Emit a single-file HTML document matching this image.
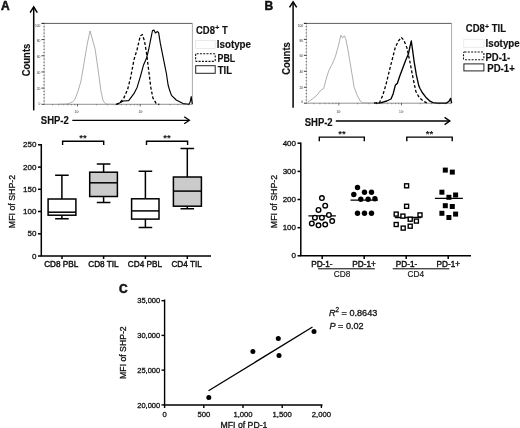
<!DOCTYPE html>
<html><head><meta charset="utf-8"><title>Figure</title>
<style>
html,body{margin:0;padding:0;background:#fff;}
svg{display:block}
text{font-family:"Liberation Sans",Arial,sans-serif;fill:#111}
.b{font-weight:bold}
.h{font-weight:bold;font-size:9.5px;stroke:#111;stroke-width:0.15px}
.ax{font-size:8.8px;stroke:#111;stroke-width:0.3px}
.lb{font-size:8.2px;stroke:#111;stroke-width:0.4px}
.tk{font-size:8px;stroke:#111;stroke-width:0.3px}
.pl{font-weight:bold;font-size:12px;stroke:#111;stroke-width:0.5px}
.tiny{font-size:3.3px;fill:#333}
</style></head><body>
<svg width="520" height="428" viewBox="0 0 520 428">
<rect width="520" height="428" fill="#fff"/>

<text x="0.9" y="9.7" class="pl">A</text>
<text x="264.4" y="9.7" class="pl">B</text>
<text x="119" y="293.1" class="pl">C</text>
<g fill="none" stroke="#111">
<path d="M33.7,110.4 V7" stroke="#000" stroke-width="1.5"/><path d="M30.1,12.6 L33.7,6.9 L37.3,12.6" stroke="#000" stroke-width="1.5"/>
<path d="M41.6,23.4 H192.4" stroke="#333" stroke-width="0.8"/>
<path d="M192.4,23.4 V104.3" stroke="#888" stroke-width="0.7"/>
<path d="M44.3,23.4 V104.3" stroke="#999" stroke-width="0.5"/>
<path d="M44.3,104.3 H192.4" stroke="#666" stroke-width="0.7"/>
<path d="M41.6,23.40 H44.5 M41.6,39.58 H44.5 M41.6,55.76 H44.5 M41.6,71.94 H44.5 M41.6,88.12 H44.5 M41.6,104.30 H44.5" stroke="#222" stroke-width="0.9"/>
<path d="M43.3,26.64 H44.6 M43.3,29.87 H44.6 M43.3,33.11 H44.6 M43.3,36.34 H44.6 M43.3,42.82 H44.6 M43.3,46.05 H44.6 M43.3,49.29 H44.6 M43.3,52.52 H44.6 M43.3,59.00 H44.6 M43.3,62.23 H44.6 M43.3,65.47 H44.6 M43.3,68.70 H44.6 M43.3,75.18 H44.6 M43.3,78.41 H44.6 M43.3,81.65 H44.6 M43.3,84.88 H44.6 M43.3,91.36 H44.6 M43.3,94.59 H44.6 M43.3,97.83 H44.6 M43.3,101.06 H44.6" stroke="#333" stroke-width="0.7"/>
<path d="M77.50,104.0 V106.5 M140.20,104.0 V106.5" stroke="#333" stroke-width="0.7"/>
<path d="M52.55,104.0 V105.4 M58.63,104.0 V105.4 M63.59,104.0 V105.4 M67.79,104.0 V105.4 M71.42,104.0 V105.4 M74.63,104.0 V105.4 M96.37,104.0 V105.4 M107.42,104.0 V105.4 M115.25,104.0 V105.4 M121.33,104.0 V105.4 M126.29,104.0 V105.4 M130.49,104.0 V105.4 M134.12,104.0 V105.4 M137.33,104.0 V105.4 M159.07,104.0 V105.4 M170.12,104.0 V105.4 M177.95,104.0 V105.4 M184.03,104.0 V105.4 M188.99,104.0 V105.4" stroke="#555" stroke-width="0.5"/>
<polyline points="58.0,104.3 66.0,104.1 69.5,103.3 72.5,101.8 74.7,99.8 77.9,91.6 81.0,81.0 84.2,62.1 87.4,43.2 90.1,30.9 92.6,40.0 95.2,49.5 97.9,68.4 101.0,91.6 103.2,101.0 106.3,104.2 115.0,104.3" stroke="#999" stroke-width="0.8"/>
<polyline points="116.0,104.3 119.2,103.2 123.4,99.0 127.6,89.5 130.8,76.8 133.9,60.0 137.1,49.5 140.3,35.8 142.4,34.7 144.5,41.0 146.6,53.7 148.7,70.5 150.8,87.4 152.9,97.9 156.0,103.2 159.2,104.4" stroke="#000" stroke-width="1.3" stroke-dasharray="3 2"/>
<polyline points="117.0,104.2 123.4,101.0 128.7,100.6 133.9,93.7 137.1,87.4 140.3,76.8 143.4,65.3 146.6,57.9 148.7,49.5 150.8,38.9 152.5,30.5 153.9,30.1 155.4,33.0 157.1,31.6 158.6,32.6 160.3,43.2 162.4,53.7 164.5,64.2 166.4,73.5 168.1,85.0 169.8,90.8 171.5,95.4 176.2,100.0 183.1,103.5 188.8,104.2 190.2,102.0 191.2,96.5 192.3,104.2" stroke="#000" stroke-width="1.15" stroke-linejoin="round"/>
<path d="M72.3,120.3 H189" stroke="#000" stroke-width="1.3"/><path d="M184.2,116.8 L189.4,120.3 L184.2,123.8" stroke="#000" stroke-width="1.3"/>
<rect x="195.7" y="40.5" width="19.5" height="8" stroke="#ddd" stroke-width="0.6"/>
<rect x="195.6" y="53.8" width="19.6" height="7.6" rx="1" stroke="#111" stroke-width="1.1" stroke-dasharray="2 1.3"/>
<rect x="195.7" y="65.7" width="19.5" height="7.6" stroke="#222" stroke-width="1"/>
</g>
<text x="40.4" y="27.2" class="tiny" text-anchor="end">100</text>
<text x="40.4" y="41.8" class="tiny" text-anchor="end">80</text>
<text x="40.4" y="58.0" class="tiny" text-anchor="end">60</text>
<text x="40.4" y="74.1" class="tiny" text-anchor="end">40</text>
<text x="40.4" y="90.3" class="tiny" text-anchor="end">20</text>
<text x="40.4" y="104.5" class="tiny" text-anchor="end">0</text>
<text x="77" y="113.4" class="tiny" text-anchor="middle">10¹</text>
<text x="140.8" y="113.4" class="tiny" text-anchor="middle">10²</text>
<text transform="translate(30.2,60) rotate(-90) scale(1,1.12)" class="h" text-anchor="middle">Counts</text>
<text transform="translate(40.8,124) scale(1,1.08)" class="h">SHP-2</text>
<text transform="translate(196,34) scale(1,1.1)" class="h">CD8<tspan dy="-3.4" dx="0.2" style="font-size:7px">+</tspan><tspan dy="3.4"> T</tspan></text>
<text transform="translate(216.8,47.7) scale(1.03,1.15)" class="h">Isotype</text>
<text transform="translate(217.5,61.8) scale(0.93,1.15)" class="h">PBL</text>
<text transform="translate(217.8,74.3) scale(1,1.15)" class="h">TIL</text>
<g fill="none" stroke="#111">
<path d="M293.1,107.8 V2" stroke="#000" stroke-width="1.5"/><path d="M289.5,7.4 L293.1,1.8 L296.7,7.4" stroke="#000" stroke-width="1.5"/>
<path d="M303.9,23.4 H451.6" stroke="#333" stroke-width="0.8"/>
<path d="M451.6,23.4 V103.2" stroke="#888" stroke-width="0.7"/>
<path d="M306.6,23.4 V103.2" stroke="#999" stroke-width="0.5"/>
<path d="M306.6,103.2 H451.6" stroke="#666" stroke-width="0.7"/>
<path d="M303.9,23.40 H306.8 M303.9,39.36 H306.8 M303.9,55.32 H306.8 M303.9,71.28 H306.8 M303.9,87.24 H306.8 M303.9,103.20 H306.8" stroke="#222" stroke-width="0.9"/>
<path d="M305.6,26.59 H306.9 M305.6,29.78 H306.9 M305.6,32.98 H306.9 M305.6,36.17 H306.9 M305.6,42.55 H306.9 M305.6,45.74 H306.9 M305.6,48.94 H306.9 M305.6,52.13 H306.9 M305.6,58.51 H306.9 M305.6,61.70 H306.9 M305.6,64.90 H306.9 M305.6,68.09 H306.9 M305.6,74.47 H306.9 M305.6,77.66 H306.9 M305.6,80.86 H306.9 M305.6,84.05 H306.9 M305.6,90.43 H306.9 M305.6,93.62 H306.9 M305.6,96.82 H306.9 M305.6,100.01 H306.9" stroke="#333" stroke-width="0.7"/>
<path d="M338.80,102.9 V105.4 M401.50,102.9 V105.4" stroke="#333" stroke-width="0.7"/>
<path d="M313.85,102.9 V104.3 M319.93,102.9 V104.3 M324.89,102.9 V104.3 M329.09,102.9 V104.3 M332.72,102.9 V104.3 M335.93,102.9 V104.3 M357.67,102.9 V104.3 M368.72,102.9 V104.3 M376.55,102.9 V104.3 M382.63,102.9 V104.3 M387.59,102.9 V104.3 M391.79,102.9 V104.3 M395.42,102.9 V104.3 M398.63,102.9 V104.3 M420.37,102.9 V104.3 M431.42,102.9 V104.3 M439.25,102.9 V104.3 M445.33,102.9 V104.3 M450.29,102.9 V104.3" stroke="#555" stroke-width="0.5"/>
<polyline points="307.9,102.1 313.2,98.3 317.4,94.7 320.5,90.5 323.7,88.4 326.8,76.8 328.9,70.5 332.1,64.2 335.3,56.8 337.4,49.5 339.5,41.0 340.9,35.2 342.6,37.9 344.3,35.8 345.8,38.9 347.9,49.5 350.0,62.1 352.1,74.7 354.2,87.4 357.4,95.8 360.5,101.3 362.6,102.8 375.0,103.1" stroke="#999" stroke-width="0.8"/>
<polyline points="374.0,103.0 379.5,102.7 382.6,95.8 385.8,85.3 388.9,72.6 392.1,60.0 395.3,47.4 398.4,41.0 401.2,37.3 403.7,40.0 406.8,47.4 410.0,62.1 413.2,79.0 415.9,91.6 419.5,97.9 423.7,101.3 426.8,102.9" stroke="#000" stroke-width="1.3" stroke-dasharray="3 2"/>
<polyline points="376.0,103.1 380.5,102.9 386.8,101.0 391.0,99.0 393.2,93.7 395.3,85.3 397.4,83.2 399.5,76.8 402.6,68.4 405.8,60.0 408.5,53.7 410.0,46.3 411.3,41.0 412.5,49.5 414.2,62.1 416.3,74.7 418.8,85.8 420.0,88.5 422.2,92.5 425.8,97.2 430.0,101.2 433.0,102.6 437.4,103.1 446.5,103.1 449.0,101.3 450.6,98.4 451.6,103.2" stroke="#000" stroke-width="1.35" stroke-linejoin="round"/>
<path d="M335.8,121 H449.4" stroke="#000" stroke-width="1.4"/><path d="M444.6,117.4 L449.8,121 L444.6,124.6" stroke="#000" stroke-width="1.4"/>
<rect x="463.8" y="39.2" width="20.2" height="8" stroke="#ddd" stroke-width="0.6"/>
<rect x="463.5" y="52" width="20.4" height="7.8" rx="1" stroke="#111" stroke-width="1.1" stroke-dasharray="2 1.3"/>
<rect x="463.9" y="63.9" width="20" height="7" stroke="#222" stroke-width="1"/>
</g>
<text x="303.2" y="27.2" class="tiny" text-anchor="end">100</text>
<text x="303.2" y="41.5" class="tiny" text-anchor="end">80</text>
<text x="303.2" y="57.4" class="tiny" text-anchor="end">60</text>
<text x="303.2" y="73.4" class="tiny" text-anchor="end">40</text>
<text x="303.2" y="89.3" class="tiny" text-anchor="end">20</text>
<text x="303.2" y="103.2" class="tiny" text-anchor="end">0</text>
<text x="338.8" y="112.6" class="tiny" text-anchor="middle">10¹</text>
<text x="401.5" y="112.6" class="tiny" text-anchor="middle">10²</text>
<text transform="translate(290.1,58.5) rotate(-90) scale(1,1.12)" class="h" text-anchor="middle">Counts</text>
<text transform="translate(304.7,126.4) scale(1,1.08)" class="h">SHP-2</text>
<text transform="translate(465.8,32.4) scale(1,1.1)" class="h">CD8<tspan dy="-3.4" dx="0.3" style="font-size:7px">+</tspan><tspan dy="3.4"> TIL</tspan></text>
<text transform="translate(485.5,47) scale(1.03,1.15)" class="h">Isotype</text>
<text transform="translate(485.5,60.5) scale(1,1.13)" class="h">PD-1-</text>
<text transform="translate(487.3,72.4) scale(1.01,1.13)" class="h">PD-1+</text>
<g fill="none" stroke="#000" stroke-width="1.5">
<path d="M41.3,144.1 V256 H211"/>
<path d="M38,256.0 H41.3"/>
<path d="M38,233.8 H41.3"/>
<path d="M38,211.5 H41.3"/>
<path d="M38,189.3 H41.3"/>
<path d="M38,167.1 H41.3"/>
<path d="M38,144.8 H41.3"/>
<path d="M62,256 V259"/>
<path d="M103.6,256 V259"/>
<path d="M145.4,256 V259"/>
<path d="M187.3,256 V259"/>
<path d="M61.9,175.3 V199 M61.9,215.2 V218.8 M55.1,175.3 H68.7 M55.1,218.8 H68.7"/>
<rect x="48.1" y="199" width="27.8" height="16.2" fill="#fff"/>
<path d="M48.1,212.2 H75.9"/>
<path d="M103.6,164 V172.2 M103.6,196.5 V202.5 M96.8,164 H110.4 M96.8,202.5 H110.4"/>
<rect x="89.7" y="172.2" width="27.7" height="24.3" fill="#cbcbcb"/>
<path d="M89.7,182.8 H117.4"/>
<path d="M145.4,171.2 V198.8 M145.4,219.1 V227.6 M138.6,171.2 H152.2 M138.6,227.6 H152.2"/>
<rect x="131.6" y="198.8" width="27.4" height="20.3" fill="#fff"/>
<path d="M131.6,210.9 H159"/>
<path d="M187.3,148.6 V177 M187.3,206.2 V208.8 M180.5,148.6 H194.1 M180.5,208.8 H194.1"/>
<rect x="173.4" y="177" width="28.0" height="29.2" fill="#cbcbcb"/>
<path d="M173.4,191.1 H201.4"/>
<path d="M62.6,145 V141.2 H103.7 V145" stroke-width="1.4"/>
<path d="M146.5,145 V141.2 H187.6 V145" stroke-width="1.4"/>
</g>
<text x="36.4" y="258.6" class="tk" text-anchor="end">0</text>
<text x="36.4" y="236.4" class="tk" text-anchor="end">50</text>
<text x="36.4" y="214.1" class="tk" text-anchor="end">100</text>
<text x="36.4" y="191.9" class="tk" text-anchor="end">150</text>
<text x="36.4" y="169.7" class="tk" text-anchor="end">200</text>
<text x="36.4" y="147.4" class="tk" text-anchor="end">250</text>
<text x="83" y="140.6" class="b" style="font-size:9.5px" text-anchor="middle">**</text>
<text x="167" y="140.6" class="b" style="font-size:9.5px" text-anchor="middle">**</text>
<text x="61.2" y="267.1" class="lb" text-anchor="middle">CD8 PBL</text>
<text x="103.4" y="267.1" class="lb" text-anchor="middle">CD8 TIL</text>
<text x="144.9" y="267.1" class="lb" text-anchor="middle">CD4 PBL</text>
<text x="186.6" y="267.1" class="lb" text-anchor="middle">CD4 TIL</text>
<text transform="translate(15,201.5) rotate(-90)" class="ax" text-anchor="middle">MFI of SHP-2</text>
<g fill="none" stroke="#000" stroke-width="1.5">
<path d="M300.8,142.4 V255.8 H471"/>
<path d="M297.5,255.8 H300.8"/>
<path d="M297.5,227.7 H300.8"/>
<path d="M297.5,199.5 H300.8"/>
<path d="M297.5,171.4 H300.8"/>
<path d="M297.5,143.2 H300.8"/>
<path d="M322.2,255.8 V259"/>
<path d="M364.2,255.8 V259"/>
<path d="M406.2,255.8 V259"/>
<path d="M448.2,255.8 V259"/>
<path d="M319.3,141.2 V137.1 H364.3 V141.2" stroke-width="1.4"/>
<path d="M406.8,141.2 V137.1 H452.2 V141.2" stroke-width="1.4"/>
<path d="M308.4,215.8 H335.9 M350.5,200.1 H377.9 M394.8,217.5 H421.4 M434.9,198.4 H462.9" stroke-width="1.3"/>
<path d="M318.1,268.8 H374.8 M392.7,268.8 H449.4" stroke-width="1"/>
</g>
<g fill="#fff" stroke="#000" stroke-width="1.4">
<circle cx="321.9" cy="198.1" r="2.3"/>
<circle cx="325.2" cy="205.7" r="2.3"/>
<circle cx="318.5" cy="209.9" r="2.3"/>
<circle cx="328.9" cy="214.9" r="2.3"/>
<circle cx="314.9" cy="217.7" r="2.3"/>
<circle cx="321.9" cy="217.7" r="2.3"/>
<circle cx="332.2" cy="221.1" r="2.3"/>
<circle cx="311.8" cy="223.4" r="2.3"/>
<circle cx="318.5" cy="225.3" r="2.3"/>
<circle cx="325.2" cy="224.5" r="2.3"/>
<rect x="404.6" y="183.8" width="4" height="4"/>
<rect x="404.6" y="204.3" width="4" height="4"/>
<rect x="394.2" y="212.1" width="4" height="4"/>
<rect x="400.9" y="214.1" width="4" height="4"/>
<rect x="418.0" y="212.9" width="4" height="4"/>
<rect x="408.2" y="217.2" width="4" height="4"/>
<rect x="414.4" y="219.1" width="4" height="4"/>
<rect x="394.2" y="222.5" width="4" height="4"/>
<rect x="408.2" y="224.2" width="4" height="4"/>
<rect x="401.2" y="226.1" width="4" height="4"/>
</g><g fill="#000">
<circle cx="357.5" cy="187.5" r="2.7"/>
<circle cx="353.8" cy="194.5" r="2.7"/>
<circle cx="364.5" cy="192.2" r="2.7"/>
<circle cx="371.5" cy="192.2" r="2.7"/>
<circle cx="360.8" cy="199.2" r="2.7"/>
<circle cx="368.1" cy="199.2" r="2.7"/>
<circle cx="374.9" cy="198.7" r="2.7"/>
<circle cx="357.5" cy="213.3" r="2.7"/>
<circle cx="364.5" cy="213.3" r="2.7"/>
<circle cx="371.5" cy="213.3" r="2.7"/>
<rect x="442.8" y="167.6" width="5" height="5"/>
<rect x="449.8" y="169.6" width="5" height="5"/>
<rect x="439.4" y="189.7" width="5" height="5"/>
<rect x="453.1" y="192.5" width="5" height="5"/>
<rect x="446.4" y="194.8" width="5" height="5"/>
<rect x="442.8" y="203.2" width="5" height="5"/>
<rect x="449.8" y="204.0" width="5" height="5"/>
<rect x="439.4" y="210.8" width="5" height="5"/>
<rect x="453.1" y="211.6" width="5" height="5"/>
<rect x="446.4" y="215.0" width="5" height="5"/>
</g>
<text x="296" y="258.1" class="tk" text-anchor="end">0</text>
<text x="296" y="230.0" class="tk" text-anchor="end">100</text>
<text x="296" y="201.8" class="tk" text-anchor="end">200</text>
<text x="296" y="173.7" class="tk" text-anchor="end">300</text>
<text x="296" y="145.5" class="tk" text-anchor="end">400</text>
<text x="341.9" y="136.6" class="b" style="font-size:9.5px" text-anchor="middle">**</text>
<text x="429.5" y="136.6" class="b" style="font-size:9.5px" text-anchor="middle">**</text>
<text x="321.9" y="267.4" class="lb" text-anchor="middle">PD-1-</text>
<text x="364" y="267.4" class="lb" text-anchor="middle">PD-1+</text>
<text x="406.5" y="267.4" class="lb" text-anchor="middle">PD-1-</text>
<text x="448.3" y="267.4" class="lb" text-anchor="middle">PD-1+</text>
<text x="342.1" y="277.3" class="tk" style="font-size:8.3px;stroke-width:0.15px" text-anchor="middle">CD8</text>
<text x="415.8" y="277.4" class="tk" style="font-size:8.3px;stroke-width:0.15px" text-anchor="middle">CD4</text>
<text transform="translate(276.6,201.5) rotate(-90)" class="ax" text-anchor="middle">MFI of SHP-2</text>
<g fill="none" stroke="#000" stroke-width="1.4">
<path d="M164.6,299.5 V405 H322.5"/>
<path d="M161.5,300.7 H164.6"/>
<path d="M161.5,335.4 H164.6"/>
<path d="M161.5,370.1 H164.6"/>
<path d="M161.5,404.9 H164.6"/>
<path d="M164.6,405 V408"/>
<path d="M203.8,405 V408"/>
<path d="M243,405 V408"/>
<path d="M282.2,405 V408"/>
<path d="M321.4,405 V408"/>
<path d="M208.5,390.8 L312.5,327" stroke-width="1.3"/>
</g><g fill="#000">
<circle cx="208.8" cy="397.4" r="2.5"/>
<circle cx="252.9" cy="351.6" r="2.5"/>
<circle cx="278.3" cy="338.5" r="2.5"/>
<circle cx="279" cy="355.4" r="2.5"/>
<circle cx="314" cy="331.6" r="2.5"/>
</g>
<text x="160.2" y="303.4" class="tk" style="font-size:7.5px" text-anchor="end">35,000</text>
<text x="160.2" y="338.0" class="tk" style="font-size:7.5px" text-anchor="end">30,000</text>
<text x="160.2" y="372.8" class="tk" style="font-size:7.5px" text-anchor="end">25,000</text>
<text x="160.2" y="407.6" class="tk" style="font-size:7.5px" text-anchor="end">20,000</text>
<text x="164.6" y="416.6" class="tk" style="font-size:7.7px" text-anchor="middle">0</text>
<text x="203.8" y="416.6" class="tk" style="font-size:7.7px" text-anchor="middle">500</text>
<text x="243" y="416.6" class="tk" style="font-size:7.7px" text-anchor="middle">1,000</text>
<text x="282.2" y="416.6" class="tk" style="font-size:7.7px" text-anchor="middle">1,500</text>
<text x="321.4" y="416.6" class="tk" style="font-size:7.7px" text-anchor="middle">2,000</text>
<text x="244" y="427.7" class="ax" style="font-size:8.7px" text-anchor="middle">MFI of PD-1</text>
<text transform="translate(126.4,352.6) rotate(-90)" class="ax" style="font-size:8.7px" text-anchor="middle">MFI of SHP-2</text>
<text x="329" y="315.5" class="ax" style="font-size:9.1px"><tspan font-style="italic">R</tspan><tspan dy="-3.6" style="font-size:6.3px">2</tspan><tspan dy="3.6"> = 0.8643</tspan></text>
<text x="329.5" y="328.8" class="ax" style="font-size:9.1px"><tspan font-style="italic">P</tspan> = 0.02</text>
</svg></body></html>
